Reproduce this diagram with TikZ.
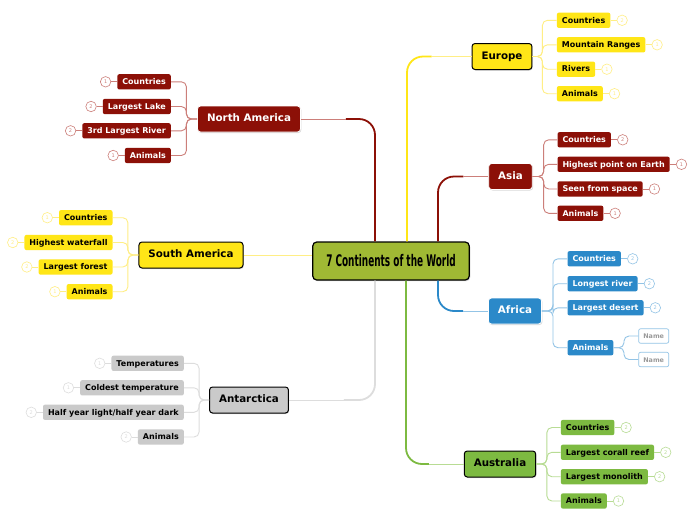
\documentclass[tikz,border=0pt]{standalone}
\usepackage{fontspec}
\setmainfont{DejaVu Sans}
\newfontfamily\hubfont{DejaVu Sans Condensed}
\usetikzlibrary{shadows,calc,positioning}
\definecolor{redmain}{HTML}{8C1007}
\definecolor{redlight}{HTML}{CC7F7A}
\definecolor{yellowmain}{HTML}{FFE617}
\definecolor{yellowlight}{HTML}{FFEE85}
\definecolor{bluemain}{HTML}{2B89C9}
\definecolor{bluelight}{HTML}{93C4E6}
\definecolor{greenmain}{HTML}{7DBA41}
\definecolor{greenlight}{HTML}{B8DC94}
\definecolor{graymain}{HTML}{CACACA}
\definecolor{graylight}{HTML}{DDDDDD}
\definecolor{olive}{HTML}{A0B934}
\definecolor{nametext}{HTML}{9A9A9A}
\tikzset{
  hub/.style={draw=black, line width=1.2pt, fill=olive, rounded corners=4pt,
    minimum height=38pt, inner xsep=13.5pt,
    drop shadow={opacity=0.35, shadow xshift=1pt, shadow yshift=-1.2pt}},
  topic/.style={rounded corners=3pt, minimum height=26pt, inner xsep=9.5pt,
    text height=0.75em, text depth=0.2em,
    font=\fontsize{10.3}{12}\selectfont\bfseries,
    drop shadow={opacity=0.3, shadow xshift=0.8pt, shadow yshift=-1pt}},
  topicdark/.style={topic, fill=#1, draw=white, line width=0.8pt, text=white},
  topiclight/.style={topic, fill=#1, draw=black, line width=1pt},
  leaf/.style={fill=#1, rounded corners=2pt, minimum height=15.3pt,
    inner xsep=5pt, inner ysep=0pt, text height=0.75em, text depth=0.2em,
    font=\fontsize{8}{9}\selectfont\bfseries},
  leafdark/.style={leaf=#1, text=white},
  namebox/.style={draw=bluelight, fill=white, line width=0.7pt, rounded corners=2pt,
    minimum height=14.5pt, inner xsep=4.7pt, inner ysep=0pt, text=nametext,
    text height=0.75em, text depth=0.2em, font=\fontsize{6.4}{7}\selectfont\bfseries},
  badge/.style={circle, draw=#1, text=#1, fill=white, line width=0.6pt,
    minimum size=10.5pt, inner sep=0pt, font=\fontsize{5}{5}\selectfont},
  trunk/.style={draw=#1, line width=1.8pt, rounded corners=16pt},
  stem/.style={draw=#1, line width=1pt},
  twig/.style={draw=#1, line width=0.9pt, rounded corners=5pt}
}

\begin{document}
\begin{tikzpicture}[x=1pt, y=-1pt]
	\useasboundingbox[fill=white] (0,0) rectangle (696,520);

	% centre and continents
	\node[hub] (hub) at (391,261){\hubfont\bfseries\fontsize{16}{16}\selectfont\scalebox{0.62}[1]{7 Continents of the World}};
	\node[topiclight=yellowmain] (europe) at (502,56.5){Europe};
	\node[topicdark=redmain] (asia) at (510.5,176.5){Asia};
	\node[topicdark=bluemain] (africa) at (515,311){Africa};
	\node[topiclight=greenmain] (australia) at (500,464){Australia};
	\node[topicdark=redmain] (namerica) at (249,119){North America};
	\node[topiclight=yellowmain] (samerica) at (191,255){South America};
	\node[topiclight=graymain] (antarctica) at (249,400){Antarctica};

	\draw[trunk=yellowmain] ($(hub.north)+(16,0)$) |- ($(europe.west)+(-40,0)$);
	\draw[stem=yellowlight] ($(europe.west)+(-40,0)$) -- (europe.west);
	\draw[trunk=redmain] ($(hub.north)+(47,0)$) |- ($(asia.west)+(-25,0)$);
	\draw[stem=redlight] ($(asia.west)+(-25,0)$) -- (asia.west);
	\draw[trunk=bluemain] ($(hub.south)+(47,0)$) |- ($(africa.west)+(-25,0)$);
	\draw[stem=bluelight] ($(africa.west)+(-25,0)$) -- (africa.west);
	\draw[trunk=greenmain] ($(hub.south)+(15,0)$) |- ($(australia.west)+(-35,0)$);
	\draw[stem=greenlight] ($(australia.west)+(-35,0)$) -- (australia.west);
	\draw[trunk=redmain] ($(hub.north)+(-16,0)$) |- ($(namerica.east)+(45,0)$);
	\draw[stem=redlight] ($(namerica.east)+(45,0)$) -- (namerica.east);
	\draw[trunk=graylight] ($(hub.south)+(-16,0)$) |- ($(antarctica.east)+(55,0)$);
	\draw[stem=graylight] ($(antarctica.east)+(55,0)$) -- (antarctica.east);
	\draw[stem=yellowlight] (samerica.east -| hub.west) -- (samerica.east);

	% Europe
	\node[leaf=yellowmain, anchor=west] (eu1) at (556.7,20.3){Countries};
	\node[leaf=yellowmain, anchor=west] (eu2) at (556.7,44.8){Mountain Ranges};
	\node[leaf=yellowmain, anchor=west] (eu3) at (556.7,69.2){Rivers};
	\node[leaf=yellowmain, anchor=west] (eu4) at (556.7,93.7){Animals};
	\node[badge=yellowlight, right=6pt of eu1] (eu1b){2};
	\node[badge=yellowlight, right=6pt of eu2] (eu2b){1};
	\node[badge=yellowlight, right=6pt of eu3] (eu3b){1};
	\node[badge=yellowlight, right=6pt of eu4] (eu4b){1};
	\draw[twig=yellowlight] (europe.east) -- ++(10,0) |- (eu1.west);
	\draw[twig=yellowlight] (europe.east) -- ++(10,0) |- (eu2.west);
	\draw[twig=yellowlight] (europe.east) -- ++(10,0) |- (eu3.west);
	\draw[twig=yellowlight] (europe.east) -- ++(10,0) |- (eu4.west);
	\draw[stem=yellowlight] (eu1) -- (eu1b);
	\draw[stem=yellowlight] (eu2) -- (eu2b);
	\draw[stem=yellowlight] (eu3) -- (eu3b);
	\draw[stem=yellowlight] (eu4) -- (eu4b);

	% Asia
	\node[leafdark=redmain, anchor=west] (as1) at (557.3,139.8){Countries};
	\node[leafdark=redmain, anchor=west] (as2) at (557.3,164.3){Highest point on Earth};
	\node[leafdark=redmain, anchor=west] (as3) at (557.3,189){Seen from space};
	\node[leafdark=redmain, anchor=west] (as4) at (557.3,213.3){Animals};
	\node[badge=redlight, right=6pt of as1] (as1b){2};
	\node[badge=redlight, right=6pt of as2] (as2b){1};
	\node[badge=redlight, right=6pt of as3] (as3b){1};
	\node[badge=redlight, right=6pt of as4] (as4b){1};
	\draw[twig=redlight] (asia.east) -- ++(11,0) |- (as1.west);
	\draw[twig=redlight] (asia.east) -- ++(11,0) |- (as2.west);
	\draw[twig=redlight] (asia.east) -- ++(11,0) |- (as3.west);
	\draw[twig=redlight] (asia.east) -- ++(11,0) |- (as4.west);
	\draw[stem=redlight] (as1) -- (as1b);
	\draw[stem=redlight] (as2) -- (as2b);
	\draw[stem=redlight] (as3) -- (as3b);
	\draw[stem=redlight] (as4) -- (as4b);

	% Africa
	\node[leafdark=bluemain, anchor=west] (af1) at (567.3,258.8){Countries};
	\node[leafdark=bluemain, anchor=west] (af2) at (567.3,283.7){Longest river};
	\node[leafdark=bluemain, anchor=west] (af3) at (567.3,307.8){Largest desert};
	\node[leafdark=bluemain, anchor=west] (af4) at (567.3,347.7){Animals};
	\node[namebox, anchor=west] (af41) at (638.3,336){Name};
	\node[namebox, anchor=west] (af42) at (638.3,359.5){Name};
	\node[badge=bluelight, right=6pt of af1] (af1b){2};
	\node[badge=bluelight, right=6pt of af2] (af2b){2};
	\node[badge=bluelight, right=6pt of af3] (af3b){2};
	\draw[twig=bluelight] (africa.east) -- ++(11,0) |- (af1.west);
	\draw[twig=bluelight] (africa.east) -- ++(11,0) |- (af2.west);
	\draw[twig=bluelight] (africa.east) -- ++(11,0) |- (af3.west);
	\draw[twig=bluelight] (africa.east) -- ++(11,0) |- (af4.west);
	\draw[twig=bluelight] (af4.east) -- ++(10.4,0) |- (af41.west);
	\draw[twig=bluelight] (af4.east) -- ++(10.4,0) |- (af42.west);
	\draw[stem=bluelight] (af1) -- (af1b);
	\draw[stem=bluelight] (af2) -- (af2b);
	\draw[stem=bluelight] (af3) -- (af3b);

	% Australia
	\node[leaf=greenmain, anchor=west] (au1) at (560.7,427.5){Countries};
	\node[leaf=greenmain, anchor=west] (au2) at (560.7,452.3){Largest corall reef};
	\node[leaf=greenmain, anchor=west] (au3) at (560.7,476.7){Largest monolith};
	\node[leaf=greenmain, anchor=west] (au4) at (560.7,501){Animals};
	\node[badge=greenlight, right=6pt of au1] (au1b){2};
	\node[badge=greenlight, right=6pt of au2] (au2b){2};
	\node[badge=greenlight, right=6pt of au3] (au3b){2};
	\node[badge=greenlight, right=6pt of au4] (au4b){1};
	\draw[twig=greenlight] (australia.east) -- ++(10.7,0) |- (au1.west);
	\draw[twig=greenlight] (australia.east) -- ++(10.7,0) |- (au2.west);
	\draw[twig=greenlight] (australia.east) -- ++(10.7,0) |- (au3.west);
	\draw[twig=greenlight] (australia.east) -- ++(10.7,0) |- (au4.west);
	\draw[stem=greenlight] (au1) -- (au1b);
	\draw[stem=greenlight] (au2) -- (au2b);
	\draw[stem=greenlight] (au3) -- (au3b);
	\draw[stem=greenlight] (au4) -- (au4b);

	% North America
	\node[leafdark=redmain, anchor=east] (na1) at (171,81.8){Countries};
	\node[leafdark=redmain, anchor=east] (na2) at (171,106.5){Largest Lake};
	\node[leafdark=redmain, anchor=east] (na3) at (171,130.8){3rd Largest River};
	\node[leafdark=redmain, anchor=east] (na4) at (171,155.5){Animals};
	\node[badge=redlight, left=6pt of na1] (na1b){1};
	\node[badge=redlight, left=6pt of na2] (na2b){2};
	\node[badge=redlight, left=6pt of na3] (na3b){2};
	\node[badge=redlight, left=6pt of na4] (na4b){1};
	\draw[twig=redlight] (namerica.west) -- ++(-10.7,0) |- (na1.east);
	\draw[twig=redlight] (namerica.west) -- ++(-10.7,0) |- (na2.east);
	\draw[twig=redlight] (namerica.west) -- ++(-10.7,0) |- (na3.east);
	\draw[twig=redlight] (namerica.west) -- ++(-10.7,0) |- (na4.east);
	\draw[stem=redlight] (na1) -- (na1b);
	\draw[stem=redlight] (na2) -- (na2b);
	\draw[stem=redlight] (na3) -- (na3b);
	\draw[stem=redlight] (na4) -- (na4b);

	% South America
	\node[leaf=yellowmain, anchor=east] (sa1) at (112.7,217.7){Countries};
	\node[leaf=yellowmain, anchor=east] (sa2) at (112.7,242.5){Highest waterfall};
	\node[leaf=yellowmain, anchor=east] (sa3) at (112.7,267){Largest forest};
	\node[leaf=yellowmain, anchor=east] (sa4) at (112.7,291.7){Animals};
	\node[badge=yellowlight, left=6pt of sa1] (sa1b){1};
	\node[badge=yellowlight, left=6pt of sa2] (sa2b){2};
	\node[badge=yellowlight, left=6pt of sa3] (sa3b){2};
	\node[badge=yellowlight, left=6pt of sa4] (sa4b){1};
	\draw[twig=yellowlight] (samerica.west) -- ++(-10.6,0) |- (sa1.east);
	\draw[twig=yellowlight] (samerica.west) -- ++(-10.6,0) |- (sa2.east);
	\draw[twig=yellowlight] (samerica.west) -- ++(-10.6,0) |- (sa3.east);
	\draw[twig=yellowlight] (samerica.west) -- ++(-10.6,0) |- (sa4.east);
	\draw[stem=yellowlight] (sa1) -- (sa1b);
	\draw[stem=yellowlight] (sa2) -- (sa2b);
	\draw[stem=yellowlight] (sa3) -- (sa3b);
	\draw[stem=yellowlight] (sa4) -- (sa4b);

	% Antarctica
	\node[leaf=graymain, anchor=east] (an1) at (184,363.3){Temperatures};
	\node[leaf=graymain, anchor=east] (an2) at (184,387.8){Coldest temperature};
	\node[leaf=graymain, anchor=east] (an3) at (184,412.3){Half year light/half year dark};
	\node[leaf=graymain, anchor=east] (an4) at (184,437){Animals};
	\node[badge=graylight, left=6pt of an1] (an1b){1};
	\node[badge=graylight, left=6pt of an2] (an2b){1};
	\node[badge=graylight, left=6pt of an3] (an3b){2};
	\node[badge=graylight, left=6pt of an4] (an4b){2};
	\draw[twig=graylight] (antarctica.west) -- ++(-10,0) |- (an1.east);
	\draw[twig=graylight] (antarctica.west) -- ++(-10,0) |- (an2.east);
	\draw[twig=graylight] (antarctica.west) -- ++(-10,0) |- (an3.east);
	\draw[twig=graylight] (antarctica.west) -- ++(-10,0) |- (an4.east);
	\draw[stem=graylight] (an1) -- (an1b);
	\draw[stem=graylight] (an2) -- (an2b);
	\draw[stem=graylight] (an3) -- (an3b);
	\draw[stem=graylight] (an4) -- (an4b);
\end{tikzpicture}
\end{document}
